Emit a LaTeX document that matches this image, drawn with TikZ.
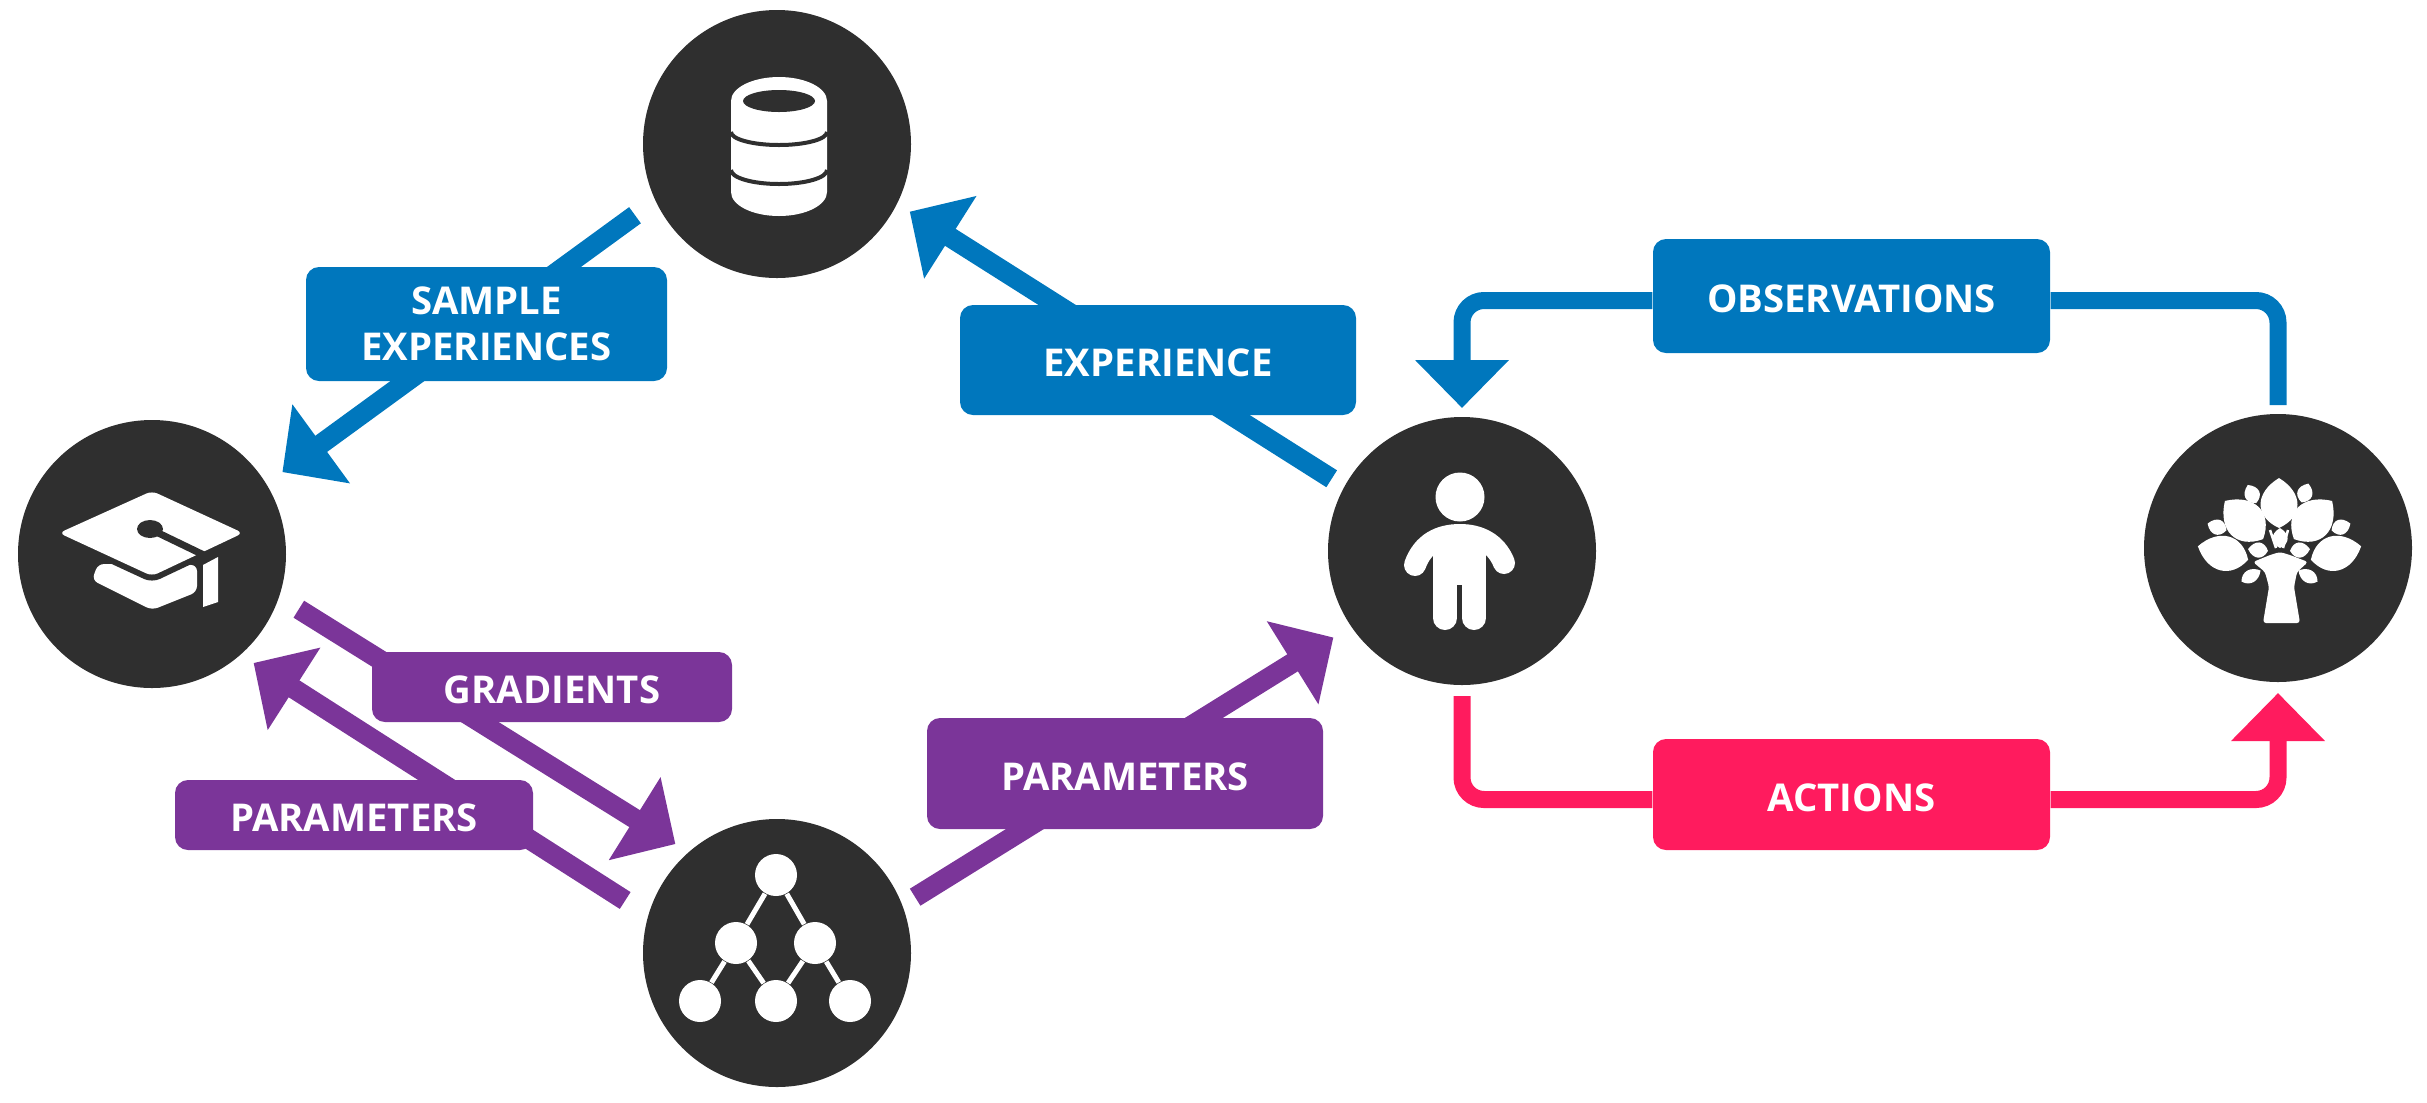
\documentclass[tikz,border=0pt]{standalone}
\usepackage{fontspec}
\setmainfont{Open Sans}
\usetikzlibrary{arrows.meta}
\definecolor{hubgray}{HTML}{2F2F2F}
\definecolor{flowblue}{HTML}{0077BD}
\definecolor{flowpurple}{HTML}{7B3599}
\definecolor{flowred}{HTML}{FF1B5E}
\tikzset{
    hub/.style={
        circle,
        fill=hubgray,
        minimum size=2.68cm,
        inner sep=0pt,
        outer sep=.15cm
    },
    tag/.style={
        rectangle,
        rounded corners=.13cm,
        text=white,
        align=center,
        inner sep=0pt,
        execute at begin node={\rule{0pt}{.34cm}},
        font=\fontsize{10.9}{13.2}\selectfont\bfseries
    },
    flow/.style={
        line width=.2cm,
        -{Triangle[length=.48cm,width=.95cm]}
    },
    elbow/.style={
        line width=.17cm,
        rounded corners=.22cm
    },
    netdot/.style={
        circle,
        fill=white,
        minimum size=.42cm,
        inner sep=0pt
    }
}
\newcommand{\treeleaf}[5]{
    \fill [white, shift={(#1,#2)}, rotate=#3]
        (0,-#4) .. controls (1.45*#5,-.55*#4) and (1.45*#5,.4*#4) .. (0,#4)
        .. controls (-1.45*#5,.4*#4) and (-1.45*#5,-.55*#4) .. cycle;
}
\begin{document}
\begin{tikzpicture}
            \useasboundingbox (0,0) rectangle (24.27,-11.02);

            % Circles
            \node (db) [hub] at (7.77,-1.44) {};
            \node (cap) [hub] at (1.52,-5.54) {};
            \node (net) [hub] at (7.77,-9.53) {};
            \node (child) [hub] at (14.62,-5.51) {};
            \node (tree) [hub] at (22.78,-5.48) {};

            % Straight arrows, under the labels
            \path [flow, flowblue]
                (db.206) edge [shorten <=.1cm, shorten >=.05cm] (cap.32)
                (child.151) edge (db.333)
            ;
            \path [flow, flowpurple]
                (cap.340) edge [shorten <=.08cm] (net.133)
                (net.162) edge [shorten <=.12cm] (cap.313)
                (net.22) edge [shorten >=.06cm] (child.214)
            ;

            % Labels
            \node (sample) [tag, fill=flowblue, minimum width=3.61cm, minimum height=1.14cm]
                at (4.865,-3.24) {SAMPLE\\EXPERIENCES};
            \node (experience) [tag, fill=flowblue, minimum width=3.96cm, minimum height=1.1cm]
                at (11.58,-3.6) {EXPERIENCE};
            \node (observations) [tag, fill=flowblue, minimum width=3.97cm, minimum height=1.14cm]
                at (18.515,-2.96) {OBSERVATIONS};
            \node (actions) [tag, fill=flowred, minimum width=3.97cm, minimum height=1.11cm]
                at (18.515,-7.945) {ACTIONS};
            \node (gradients) [tag, fill=flowpurple, minimum width=3.6cm, minimum height=.7cm]
                at (5.52,-6.87) {GRADIENTS};
            \node (paramsLeft) [tag, fill=flowpurple, minimum width=3.58cm, minimum height=.7cm]
                at (3.54,-8.15) {PARAMETERS};
            \node (paramsRight) [tag, fill=flowpurple, minimum width=3.96cm, minimum height=1.11cm]
                at (11.25,-7.735) {PARAMETERS};

            % Elbow connectors
            \draw [elbow, flowblue, shorten <=-.06cm] (tree.north) |- ([yshift=-.045cm]observations.east);
            \draw [elbow, flowblue, shorten >=-.06cm, -{Triangle[length=.48cm,width=.91cm]}]
                ([yshift=-.045cm]observations.west) -| (child.north);
            \draw [elbow, flowred, shorten <=-.04cm] (child.south) |- ([yshift=-.05cm]actions.west);
            \draw [elbow, flowred, shorten >=-.04cm, -{Triangle[length=.48cm,width=.91cm]}]
                ([yshift=-.05cm]actions.east) -| (tree.south);

            % Database icon
            \begin{scope}[shift={(db)}]
                \fill [white] (-.46,.43) arc [start angle=180, end angle=0, x radius=.48, y radius=.24]
                    -- (.5,-.48) arc [start angle=0, end angle=-180, x radius=.48, y radius=.24] -- cycle;
                \fill [hubgray] (.02,.43) ellipse [x radius=.36, y radius=.11];
                \draw [hubgray, line width=.04cm] (-.46,.12)
                    arc [start angle=180, end angle=360, x radius=.48, y radius=.13];
                \draw [hubgray, line width=.04cm] (-.46,-.26)
                    arc [start angle=180, end angle=360, x radius=.48, y radius=.14];
            \end{scope}

            % Cap icon
            \begin{scope}[shift={(cap)}]
                \fill [white, rounded corners=.06cm]
                    (-.54,-.1) -- (.45,-.11) -- (.45,-.38) -- (0,-.56) -- (-.6,-.26) -- cycle;
                \draw [hubgray, line width=.12cm, rounded corners=.06cm]
                    (0,.63) -- (.91,.21) -- (0,-.22) -- (-.93,.21) -- cycle;
                \fill [white, rounded corners=.06cm]
                    (0,.63) -- (.91,.21) -- (0,-.22) -- (-.93,.21) -- cycle;
                \fill [white] (.51,-.11) -- (.66,-.03) -- (.66,-.48) -- (.51,-.53) -- cycle;
                \fill [hubgray] (-.02,.25) ellipse [x radius=.13, y radius=.09];
                \draw [hubgray, line width=.07cm] (-.02,.25) -- (.56,-.03);
            \end{scope}

            % Network icon
            \begin{scope}[shift={(net)}]
                \node (dotTop) [netdot] at (-.01,.78) {};
                \node (dotMidL) [netdot] at (-.41,.1) {};
                \node (dotMidR) [netdot] at (.38,.1) {};
                \node (dotLowL) [netdot] at (-.77,-.48) {};
                \node (dotLowM) [netdot] at (-.01,-.48) {};
                \node (dotLowR) [netdot] at (.73,-.48) {};
                \path [white, line width=.05cm]
                    (dotTop) edge (dotMidL)
                    (dotTop) edge (dotMidR)
                    (dotMidL) edge (dotLowL)
                    (dotMidL) edge (dotLowM)
                    (dotMidR) edge (dotLowM)
                    (dotMidR) edge (dotLowR)
                ;
            \end{scope}

            % Child icon
            \begin{scope}[shift={(child)}]
                \fill [white] (-.02,.54) circle [radius=.245];
                \fill [white] (-.29,.16) rectangle (.24,-.34);
                \draw [white, line width=.24cm, line cap=round] (-.17,-.2) -- (-.17,-.67);
                \draw [white, line width=.24cm, line cap=round] (.12,-.2) -- (.12,-.67);
                \draw [white, line width=.22cm, line cap=round] (-.47,-.14)
                    .. controls (-.39,.08) and (-.22,.16) .. (-.02,.16)
                    .. controls (.17,.16) and (.34,.08) .. (.42,-.12);
            \end{scope}

            % Tree icon
            \begin{scope}[shift={(tree)}]
                \fill [white, rounded corners=.03cm]
                    (-.15,-.75) -- (.22,-.75) -- (.16,-.39) -- (.19,-.24) -- (.3,-.14) -- (.12,-.07)
                    -- (.02,-.04) -- (-.08,-.07) -- (-.25,-.14) -- (-.13,-.24) -- (-.09,-.39) -- cycle;
                \draw [white, line width=.025cm] (-.08,.18) -- (-.02,0);
                \draw [white, line width=.025cm] (.1,.18) -- (.05,0);
                \treeleaf{.01}{.45}{0}{.25}{.17}
                \treeleaf{-.34}{.28}{45}{.27}{.18}
                \treeleaf{.35}{.28}{-45}{.27}{.18}
                \treeleaf{-.55}{-.05}{75}{.26}{.16}
                \treeleaf{.58}{-.05}{-75}{.26}{.16}
                \treeleaf{-.26}{.54}{25}{.1}{.07}
                \treeleaf{.27}{.55}{-20}{.1}{.07}
                \treeleaf{-.61}{.21}{70}{.1}{.07}
                \treeleaf{.63}{.21}{-70}{.1}{.07}
                \treeleaf{-.27}{-.28}{-60}{.11}{.06}
                \treeleaf{.3}{-.28}{60}{.11}{.06}
                \treeleaf{-.2}{-.02}{85}{.1}{.07}
                \treeleaf{.22}{-.02}{-85}{.1}{.07}
                \treeleaf{.02}{.1}{0}{.1}{.07}
            \end{scope}
\end{tikzpicture}
\end{document}
